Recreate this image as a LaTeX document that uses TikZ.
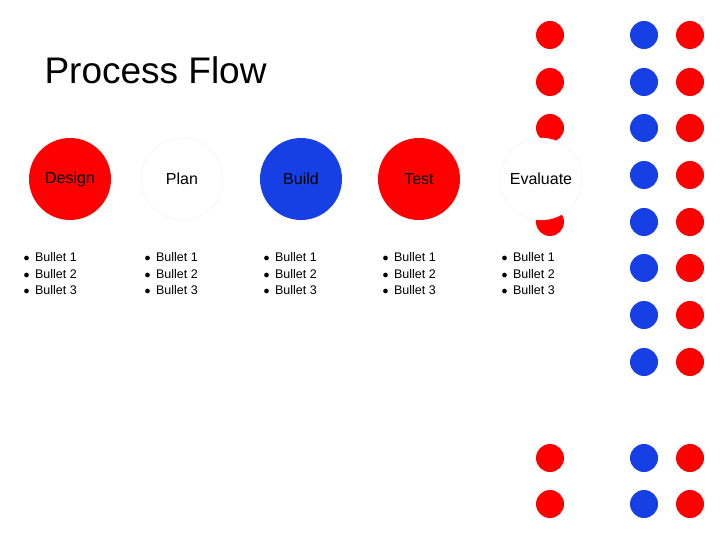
\documentclass[tikz,border=0pt]{standalone}
\usepackage{fontspec}
\setmainfont{Liberation Sans}
\definecolor{myred}{RGB}{255,0,0}
\definecolor{myblue}{RGB}{22,64,230}
\begin{document}
\begin{tikzpicture}[x=1pt,y=-1pt,
  dotr/.style={circle,fill=myred,minimum size=28pt,inner sep=0pt},
  dotb/.style={circle,fill=myblue,minimum size=28pt,inner sep=0pt},
  big/.style={circle,minimum size=82pt,inner sep=0pt,font=\fontsize{16}{18}\selectfont},
  bl/.style={anchor=west,font=\fontsize{12.5}{16.5}\selectfont,align=left}]
\useasboundingbox (0,0) rectangle (720,540);
\foreach \y [count=\i] in {35,82,128,175,222,268,315,362,458,504}{
  \node[dotb] (b\i) at (644,\y) {};
  \node[dotr] (r\i) at (690,\y) {};
}
\foreach \y [count=\i] in {35,82,128,175,222,458,504}{
  \node[dotr] (l\i) at (550,\y) {};
}
\node[anchor=west,font=\fontsize{37}{40}\selectfont] (title) at (41,70) {Process Flow};
\node[big,fill=myred] (c1) at (70,179) {Design};
\node[big,fill=white,draw=black!6] (c2) at (182,179) {Plan};
\node[big,fill=myblue] (c3) at (301,179) {Build};
\node[big,fill=myred] (c4) at (419,179) {Test};
\node[big,fill=white,draw=black!6] (c5) at (541,179) {Evaluate};
\foreach \x [count=\i] in {20,141,260,379,498}{
  \node[bl] (t\i) at (\x,274) {$\bullet$\, Bullet 1\\$\bullet$\, Bullet 2\\$\bullet$\, Bullet 3};
}
\end{tikzpicture}
\end{document}
